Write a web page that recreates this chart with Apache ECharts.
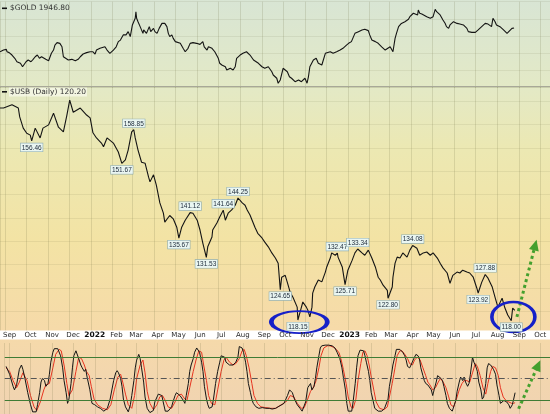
<!DOCTYPE html>
<html><head><meta charset="utf-8">
<script src="https://cdn.jsdelivr.net/npm/echarts@6/dist/echarts.min.js"></script>
<style>
html,body{margin:0;padding:0;}
#c{width:550px;height:414px;background:linear-gradient(to bottom,#d8e5d4 0px,#e3e9c6 86px,#ece8b2 150px,#f3e3a4 240px,#f6daa9 330px,#f0d3b2 414px);}
</style></head><body><div id="c"></div>
<script>
// ---- data ----
const START = new Date(2021, 7, 25).getTime();   // day 0
const DAY = 86400000;
const AXIS_DAYS = 781;
const MONTHS = ['Jan','Feb','Mar','Apr','May','Jun','Jul','Aug','Sep','Oct','Nov','Dec'];

// [day offset, $GOLD close]
const goldData = [[0,1809],[5,1819],[9,1823],[10,1809],[13,1804],[17,1790],[19,1796],[21,1771],[24,1751],[26,1761],[29,1742],[32,1722],[34,1732],[37,1751],[40,1761],[44,1751],[47,1765],[50,1780],[53,1790],[56,1771],[59,1780],[61,1777],[65,1765],[69,1757],[71,1765],[73,1800],[76,1819],[78,1848],[81,1862],[83,1858],[85,1858],[88,1838],[90,1780],[92,1771],[97,1761],[102,1765],[107,1757],[111,1765],[114,1780],[116,1790],[118,1796],[123,1804],[125,1800],[128,1809],[132,1809],[135,1796],[137,1819],[142,1829],[144,1823],[149,1838],[151,1848],[152,1819],[156,1800],[161,1819],[165,1838],[168,1868],[171,1877],[175,1907],[179,1907],[182,1926],[185,1897],[188,1965],[192,2004],[193,2042],[194,2004],[196,1984],[199,1955],[203,1916],[204,1936],[208,1916],[212,1955],[214,1926],[218,1945],[220,1926],[223,1916],[226,1945],[230,1974],[232,1984],[234,1974],[237,1955],[239,1916],[241,1897],[244,1907],[246,1887],[249,1868],[251,1877],[256,1858],[258,1848],[260,1829],[263,1809],[265,1819],[267,1829],[270,1858],[274,1862],[279,1858],[284,1852],[288,1868],[290,1838],[294,1819],[296,1838],[301,1829],[305,1809],[310,1771],[312,1742],[315,1732],[320,1722],[322,1703],[327,1713],[331,1703],[334,1722],[336,1771],[341,1790],[345,1800],[350,1809],[355,1790],[360,1761],[362,1751],[367,1742],[372,1722],[376,1713],[381,1722],[386,1693],[388,1674],[393,1655],[395,1626],[398,1645],[402,1713],[405,1703],[408,1693],[411,1664],[414,1655],[419,1635],[424,1645],[428,1635],[433,1655],[436,1626],[438,1664],[440,1722],[445,1761],[449,1771],[452,1742],[457,1732],[462,1800],[464,1790],[469,1809],[473,1800],[478,1809],[483,1819],[487,1829],[492,1848],[495,1858],[499,1868],[504,1916],[509,1926],[514,1936],[518,1940],[523,1932],[525,1907],[528,1877],[533,1868],[537,1858],[542,1838],[547,1819],[549,1829],[554,1838],[558,1809],[561,1887],[563,1916],[566,1955],[568,1965],[570,1974],[575,1984],[580,1998],[582,2013],[587,2033],[589,2036],[593,2023],[594,2052],[596,2033],[599,2029],[601,2023],[606,2013],[611,2004],[615,2013],[618,2056],[620,2042],[622,2033],[625,2023],[629,1994],[632,1975],[634,1955],[637,1945],[639,1965],[641,1974],[644,1984],[649,1974],[653,1970],[658,1965],[663,1945],[665,1926],[670,1922],[675,1922],[679,1936],[684,1955],[689,1974],[693,1970],[698,1955],[700,2004],[703,1984],[705,1965],[710,1955],[715,1936],[720,1916],[722,1920],[727,1945],[730,1946.8]];

// [day offset, $USB close]
const usbData = [[0,163.5],[5,163.5],[17,164.2],[19,164.6],[26,163.5],[28,161.6],[33,159.2],[38,158.1],[43,157.7],[45,156.46],[50,159.2],[57,157.1],[61,159.2],[69,159.9],[76,162.4],[83,159.4],[90,158.4],[95,162.0],[99,165.2],[104,162.6],[114,163.5],[123,162.0],[128,161.4],[132,158.2],[137,157.1],[144,156.0],[147,155.2],[152,157.1],[161,156.0],[168,154.1],[173,151.67],[178,152.4],[182,154.5],[187,158.4],[190,158.85],[192,157.1],[196,154.5],[201,151.9],[206,151.7],[211,148.7],[213,147.7],[218,149.2],[222,147.0],[227,143.2],[232,141.0],[234,139.1],[241,140.5],[246,139.8],[251,138.0],[254,135.67],[258,138.0],[263,139.5],[270,141.12],[274,141.0],[280,139.5],[284,137.4],[288,134.6],[293,131.53],[295,133.8],[301,135.9],[302,137.4],[308,138.9],[312,140.2],[317,141.64],[320,139.5],[324,141.0],[329,141.7],[334,142.7],[338,144.25],[344,143.2],[348,142.7],[351,141.7],[355,140.6],[358,139.5],[362,138.0],[366,136.7],[372,135.7],[376,134.8],[381,133.8],[386,132.5],[391,131.4],[395,130.3],[398,124.65],[400,127.3],[405,127.7],[408,126.2],[412,124.1],[416,123.0],[422,120.9],[423,118.15],[427,120.3],[430,122.0],[435,120.9],[437,120.3],[440,118.8],[443,120.9],[444,123.9],[447,125.2],[452,126.7],[457,126.3],[462,128.4],[464,129.5],[469,131.4],[471,132.5],[476,132.0],[479,132.47],[480,131.6],[486,129.5],[490,125.71],[494,128.8],[500,130.9],[504,132.5],[508,133.34],[514,132.5],[518,132.0],[523,133.1],[528,131.4],[533,129.5],[537,127.3],[540,126.7],[544,125.6],[550,124.5],[551,122.80],[557,125.2],[558,127.3],[561,130.3],[564,131.6],[568,131.4],[572,132.5],[578,131.6],[582,133.1],[586,134.08],[592,133.5],[596,132.0],[601,132.5],[606,132.7],[611,132.0],[615,132.5],[621,131.4],[625,130.3],[629,129.3],[635,128.2],[639,126.0],[643,127.7],[649,128.4],[653,128.2],[657,128.8],[663,128.4],[667,128.2],[672,127.3],[677,125.0],[679,123.92],[684,126.2],[689,127.88],[693,127.1],[699,125.2],[703,123.0],[707,120.9],[713,122.8],[717,120.7],[721,119.2],[726,118.00],[728,120.7],[731,120.20]];

// annotated swing points: [day offset, 'top'|'bottom']
const usbLabelDays = [[45,'bottom'],[173,'bottom'],[190,'top'],[254,'bottom'],[270,'top'],[293,'bottom'],[317,'top'],[338,'top'],[398,'bottom'],[423,'bottom'],[479,'top'],[490,'bottom'],[508,'top'],[551,'bottom'],[586,'top'],[679,'bottom'],[689,'top'],[726,'bottom']];

// circled lows [day, value] and projected moves [fromDay, fromVal, toDay, toVal]
const circledLows = [[425,117.7],[729,118.8]];
const usbArrow = [734,118.8,760,134.2];
const oscArrow = [736,7.4,764,68.7];

// oscillator %K (black) and %D (red)
const oscK = [[2,67],[7,56],[12,39],[14,34],[17,41],[19,52],[21,63],[24,69],[26,63],[29,50],[33,30],[37,13],[40,3],[45,3],[47,13],[50,30],[52,45],[54,50],[57,47],[59,39],[62,43],[64,56],[66,73],[69,87],[71,92],[76,92],[78,91],[80,82],[83,65],[85,47],[88,30],[90,15],[92,21],[95,43],[97,65],[99,82],[102,89],[104,87],[106,78],[109,69],[111,65],[114,60],[116,63],[118,52],[122,34],[125,15],[129,13],[133,10],[137,8],[142,4],[147,8],[151,21],[156,47],[159,58],[161,61],[163,58],[166,50],[168,39],[170,21],[173,10],[177,3],[180,13],[182,26],[185,47],[187,65],[189,76],[192,84],[194,78],[196,65],[199,45],[201,24],[204,8],[208,2],[213,5],[215,17],[220,28],[222,30],[225,26],[227,17],[230,4],[234,4],[239,10],[241,17],[244,26],[246,30],[248,30],[251,26],[253,28],[256,19],[258,15],[260,26],[263,43],[265,60],[267,69],[270,78],[272,87],[275,93],[277,93],[279,87],[282,73],[284,60],[286,39],[289,21],[291,13],[293,8],[297,10],[299,21],[302,43],[305,60],[308,73],[310,82],[312,84],[315,80],[317,73],[319,71],[322,69],[327,69],[329,71],[331,73],[334,80],[336,95],[337,97],[340,93],[342,87],[345,73],[347,60],[349,43],[352,30],[354,21],[356,15],[360,10],[364,8],[369,9],[374,8],[379,8],[383,7],[388,8],[400,15],[405,26],[408,34],[412,30],[415,21],[419,13],[423,8],[426,4],[431,17],[434,37],[438,43],[440,34],[443,39],[445,50],[447,65],[450,82],[452,93],[454,96],[459,97],[464,97],[469,96],[473,93],[476,87],[478,87],[480,78],[483,65],[485,52],[488,34],[490,15],[492,4],[497,4],[499,17],[502,43],[504,65],[506,82],[509,90],[511,91],[514,89],[516,82],[518,73],[521,60],[523,47],[525,30],[528,17],[530,8],[535,4],[540,4],[544,8],[549,21],[551,39],[554,56],[556,69],[559,82],[561,91],[563,93],[566,91],[568,89],[570,87],[573,82],[575,76],[577,67],[580,65],[582,69],[585,76],[587,80],[589,84],[592,82],[594,78],[596,65],[599,54],[601,47],[603,43],[606,41],[608,39],[611,34],[613,26],[615,34],[618,45],[620,54],[622,54],[625,50],[627,47],[629,39],[632,26],[634,15],[637,8],[641,4],[644,13],[646,19],[648,32],[651,45],[653,52],[656,47],[658,52],[660,45],[663,39],[665,43],[667,56],[670,80],[672,73],[674,69],[677,60],[679,45],[682,34],[684,21],[686,24],[689,43],[691,65],[693,71],[696,69],[698,66],[700,63],[703,56],[705,41],[708,26],[710,15],[712,13],[715,19],[717,21],[719,17],[722,13],[724,8],[727,13],[729,21],[731,30]];
const oscD = [[2,65],[7,60],[12,47],[17,37],[21,45],[26,58],[28,60],[32,47],[37,26],[42,10],[46,5],[51,17],[56,34],[59,41],[64,43],[69,65],[73,84],[78,91],[81,89],[85,69],[89,43],[92,26],[97,34],[102,60],[106,80],[110,78],[114,69],[117,60],[121,54],[124,39],[128,21],[133,13],[140,8],[147,6],[152,13],[157,34],[162,52],[166,56],[169,45],[173,28],[177,13],[182,8],[186,26],[189,50],[194,69],[198,76],[201,58],[204,32],[208,15],[213,6],[218,13],[222,24],[226,26],[230,19],[234,10],[239,8],[244,17],[248,26],[253,28],[258,21],[261,19],[265,37],[270,60],[274,76],[278,89],[282,87],[285,69],[289,47],[292,26],[296,15],[301,13],[305,34],[310,60],[314,76],[317,80],[322,73],[327,69],[331,71],[336,78],[340,89],[343,91],[346,82],[350,65],[354,43],[357,26],[362,15],[367,10],[374,9],[381,8],[388,8],[391,10],[398,14],[405,19],[409,26],[414,24],[419,15],[425,8],[429,9],[434,21],[438,32],[442,37],[446,47],[450,65],[453,82],[457,93],[462,96],[466,96],[471,94],[475,91],[479,86],[482,76],[485,63],[489,43],[492,24],[496,10],[499,8],[503,21],[506,47],[510,71],[513,87],[516,89],[519,82],[522,69],[525,52],[529,32],[532,17],[537,8],[543,6],[548,10],[551,24],[555,43],[559,65],[562,82],[566,89],[569,89],[573,84],[577,78],[580,71],[584,69],[587,76],[591,80],[595,76],[599,65],[603,54],[606,45],[609,41],[613,34],[617,37],[621,45],[624,50],[628,45],[632,37],[636,24],[639,13],[643,10],[647,21],[651,34],[655,43],[658,47],[662,47],[666,45],[670,58],[674,71],[677,67],[681,54],[685,37],[689,28],[692,43],[696,60],[699,67],[703,65],[707,54],[710,37],[714,24],[718,19],[722,17],[726,15],[729,15],[731,16]];
const oscLevels = [80, 50, 20];

// ---- chart ----
const ts = d => START + d * DAY;
const toPts = arr => arr.map(p => [ts(p[0]), p[1]]);
const usbMap = new Map(usbData);
const lastGold = goldData[goldData.length - 1][1];
const lastUsb = usbData[usbData.length - 1][1];

const gridCol = 'rgba(100,100,60,0.17)';
function xAxis(gi, labels) {
  return {
    type: 'time', gridIndex: gi, min: ts(0), max: ts(AXIS_DAYS),
    splitNumber: 26, minInterval: 28 * DAY, maxInterval: 31 * DAY,
    position: labels ? 'top' : 'bottom', z: labels ? 6 : 0,
    axisLine: { show: false }, axisTick: { show: false },
    axisLabel: {
      show: labels, margin: 4, fontSize: 7, fontFamily: 'DejaVu Sans', color: '#2a2a2a',
      showMinLabel: false, showMaxLabel: false, hideOverlap: false,
      formatter: v => { const d = new Date(v); return d.getMonth() === 0 ? '{y|' + d.getFullYear() + '}' : MONTHS[d.getMonth()]; },
      rich: { y: { fontWeight: 'bold', fontSize: 7.5, fontFamily: 'DejaVu Sans', color: '#111' } }
    },
    splitLine: { show: true, lineStyle: { color: gridCol, width: 1 } }
  };
}
function yAxis(gi, min, max, interval, split) {
  const o = { type: 'value', gridIndex: gi, min, max, position: 'right',
    axisLine: { show: false }, axisTick: { show: false }, axisLabel: { show: false },
    splitLine: { show: split, lineStyle: { color: 'rgba(100,100,60,0.10)', width: 1 } } };
  if (interval) o.interval = interval;
  return o;
}

const labelItems = usbLabelDays.map(([d, pos]) => {
  const v = usbMap.get(d);
  return {
    coord: [ts(d), v], symbol: 'circle', symbolSize: 1, itemStyle: { color: 'rgba(0,0,0,0)' },
    label: { show: true, position: pos, distance: 2, formatter: v.toFixed(2),
      fontSize: 6.5, fontFamily: 'Liberation Sans', color: '#1b2838',
      backgroundColor: '#eaf6f2', borderColor: '#8eadb0', borderWidth: 0.6, padding: [1, 1, 0, 1] }
  };
});
const ellipseSizes = [[56, 22], [43, 30]];
const ellipseItems = circledLows.map(([d, v], i) => ({
  coord: [ts(d), v], symbol: 'circle', symbolSize: ellipseSizes[i],
  itemStyle: { color: 'rgba(0,0,0,0)', borderColor: '#1620c8', borderWidth: 3 }, label: { show: false }
}));
const arrowStyle = {
  silent: true, animation: false, symbol: ['none', 'triangle'], symbolSize: [10, 11],
  lineStyle: { color: '#44a02e', width: 3, type: 'dotted' }, label: { show: false }, emphasis: { disabled: true }
};

const chart = echarts.init(document.getElementById('c'), null, { renderer: 'canvas' });
chart.setOption({
  animation: false,
  backgroundColor: 'transparent',
  grid: [
    { left: 0, right: 0, top: 1.72, height: 86 },
    { left: 0, right: 0, top: 87, height: 247.7 },
    { left: 0, right: 0, top: 343, height: 77 }
  ],
  xAxis: [xAxis(0, false), xAxis(1, false), xAxis(2, true)],
  yAxis: [yAxis(0, 1600, 2100, 100, true), yAxis(1, 115, 168, 5, true), yAxis(2, 0, 100, 0, false)],
  graphic: [
    { type: 'rect', z: 1, silent: true, shape: { x: 0, y: 330.5, width: 550, height: 9 }, style: { fill: '#ffffff' } },
    { type: 'line', z: 1, silent: true, shape: { x1: 0, y1: 86.5, x2: 550, y2: 86.5 }, style: { stroke: '#a8a898', lineWidth: 1 } },
    { type: 'rect', z: 10, silent: true, shape: { x: 2, y: 7.5, width: 5, height: 1.6 }, style: { fill: '#111' } },
    { type: 'text', z: 10, silent: true, x: 10, y: 4.5, style: { text: '$GOLD ' + lastGold.toFixed(2), font: '7.5px "DejaVu Sans"', fill: '#333' } },
    { type: 'rect', z: 10, silent: true, shape: { x: 2, y: 91, width: 5, height: 1.6 }, style: { fill: '#111' } },
    { type: 'text', z: 10, silent: true, x: 9, y: 87.5, style: { text: '$USB (Daily) ' + lastUsb.toFixed(2), font: '7.5px "DejaVu Sans"', fill: '#333', backgroundColor: 'rgba(255,255,250,0.55)', padding: [1, 1, 0, 1] } }
  ],
  series: [
    { type: 'line', xAxisIndex: 0, yAxisIndex: 0, data: toPts(goldData), showSymbol: false, silent: true,
      lineStyle: { color: '#141414', width: 1.1 } },
    { type: 'line', xAxisIndex: 1, yAxisIndex: 1, data: toPts(usbData), showSymbol: false, silent: true,
      lineStyle: { color: '#141414', width: 1.1 },
      markPoint: { silent: true, animation: false, data: labelItems.concat(ellipseItems) },
      markLine: Object.assign({}, arrowStyle, { data: [[{ coord: [ts(usbArrow[0]), usbArrow[1]] }, { coord: [ts(usbArrow[2]), usbArrow[3]] }]] }) },
    { type: 'line', xAxisIndex: 2, yAxisIndex: 2, data: toPts(oscD), showSymbol: false, silent: true,
      lineStyle: { color: '#e63420', width: 1 },
      markLine: Object.assign({}, arrowStyle, { data: [[{ coord: [ts(oscArrow[0]), oscArrow[1]] }, { coord: [ts(oscArrow[2]), oscArrow[3]] }]] }) },
    { type: 'line', xAxisIndex: 2, yAxisIndex: 2, data: toPts(oscK), showSymbol: false, silent: true,
      lineStyle: { color: '#141414', width: 1 },
      markLine: { silent: true, animation: false, symbol: ['none', 'none'], label: { show: false },
        data: oscLevels.map(v => ({ yAxis: v, lineStyle: v === 50 ? { color: '#555', width: 1, type: [6, 3, 1, 3] } : { color: '#3f7c35', width: 1, type: 'solid' } })) } }
  ]
});
</script></body></html>
